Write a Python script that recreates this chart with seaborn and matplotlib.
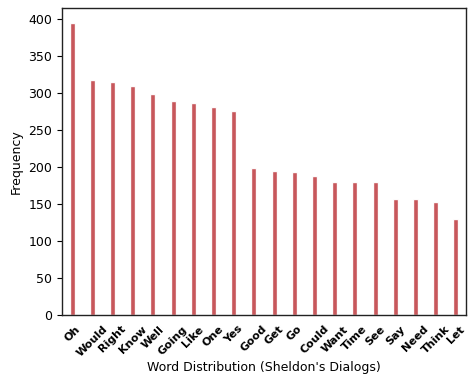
import matplotlib
matplotlib.use("Agg")
import matplotlib.pyplot as plt
import seaborn as sns
import pandas as pd

words = ["Oh", "Would", "Right", "Know", "Well", "Going", "Like", "One", "Yes",
         "Good", "Get", "Go", "Could", "Want", "Time", "See", "Say", "Need", "Think", "Let"]
freqs = [395, 318, 315, 309, 298, 289, 286, 281, 276,
         198, 195, 193, 188, 180, 180, 180, 156, 156, 153, 130]

sns.set_style("white")
plt.rcParams['font.family'] = ['DejaVu Sans']
plt.rcParams['text.color'] = 'black'
plt.rcParams['axes.labelcolor'] = 'black'
plt.rcParams['xtick.color'] = 'black'
plt.rcParams['ytick.color'] = 'black'

df = pd.DataFrame({"word": words, "freq": freqs})
fig, ax = plt.subplots(figsize=(4.74, 3.78), dpi=100)
fig.subplots_adjust(left=0.131, right=0.983, top=0.979, bottom=0.167)
sns.barplot(data=df, x="word", y="freq", color="#c44e52", width=0.25, ax=ax,
            saturation=1, alpha=0.95)
ax.set_xlabel("Word Distribution (Sheldon's Dialogs)", fontsize=9, labelpad=2)
ax.set_ylabel("Frequency", fontsize=9)
ax.set_ylim(0, 415)
ax.set_yticks(range(0, 401, 50))
ax.tick_params(axis='y', labelsize=9, left=True, length=3.5, width=0.8)
ax.tick_params(axis='x', bottom=False, pad=3)
for lbl in ax.get_xticklabels():
    lbl.set_rotation(45)
    lbl.set_fontweight("bold")
    lbl.set_fontsize(8)
    lbl.set_ha("center")
for s in ax.spines.values():
    s.set_visible(True)
    s.set_color("#222222")
    s.set_linewidth(1)
fig.savefig("out.png", dpi=100)
